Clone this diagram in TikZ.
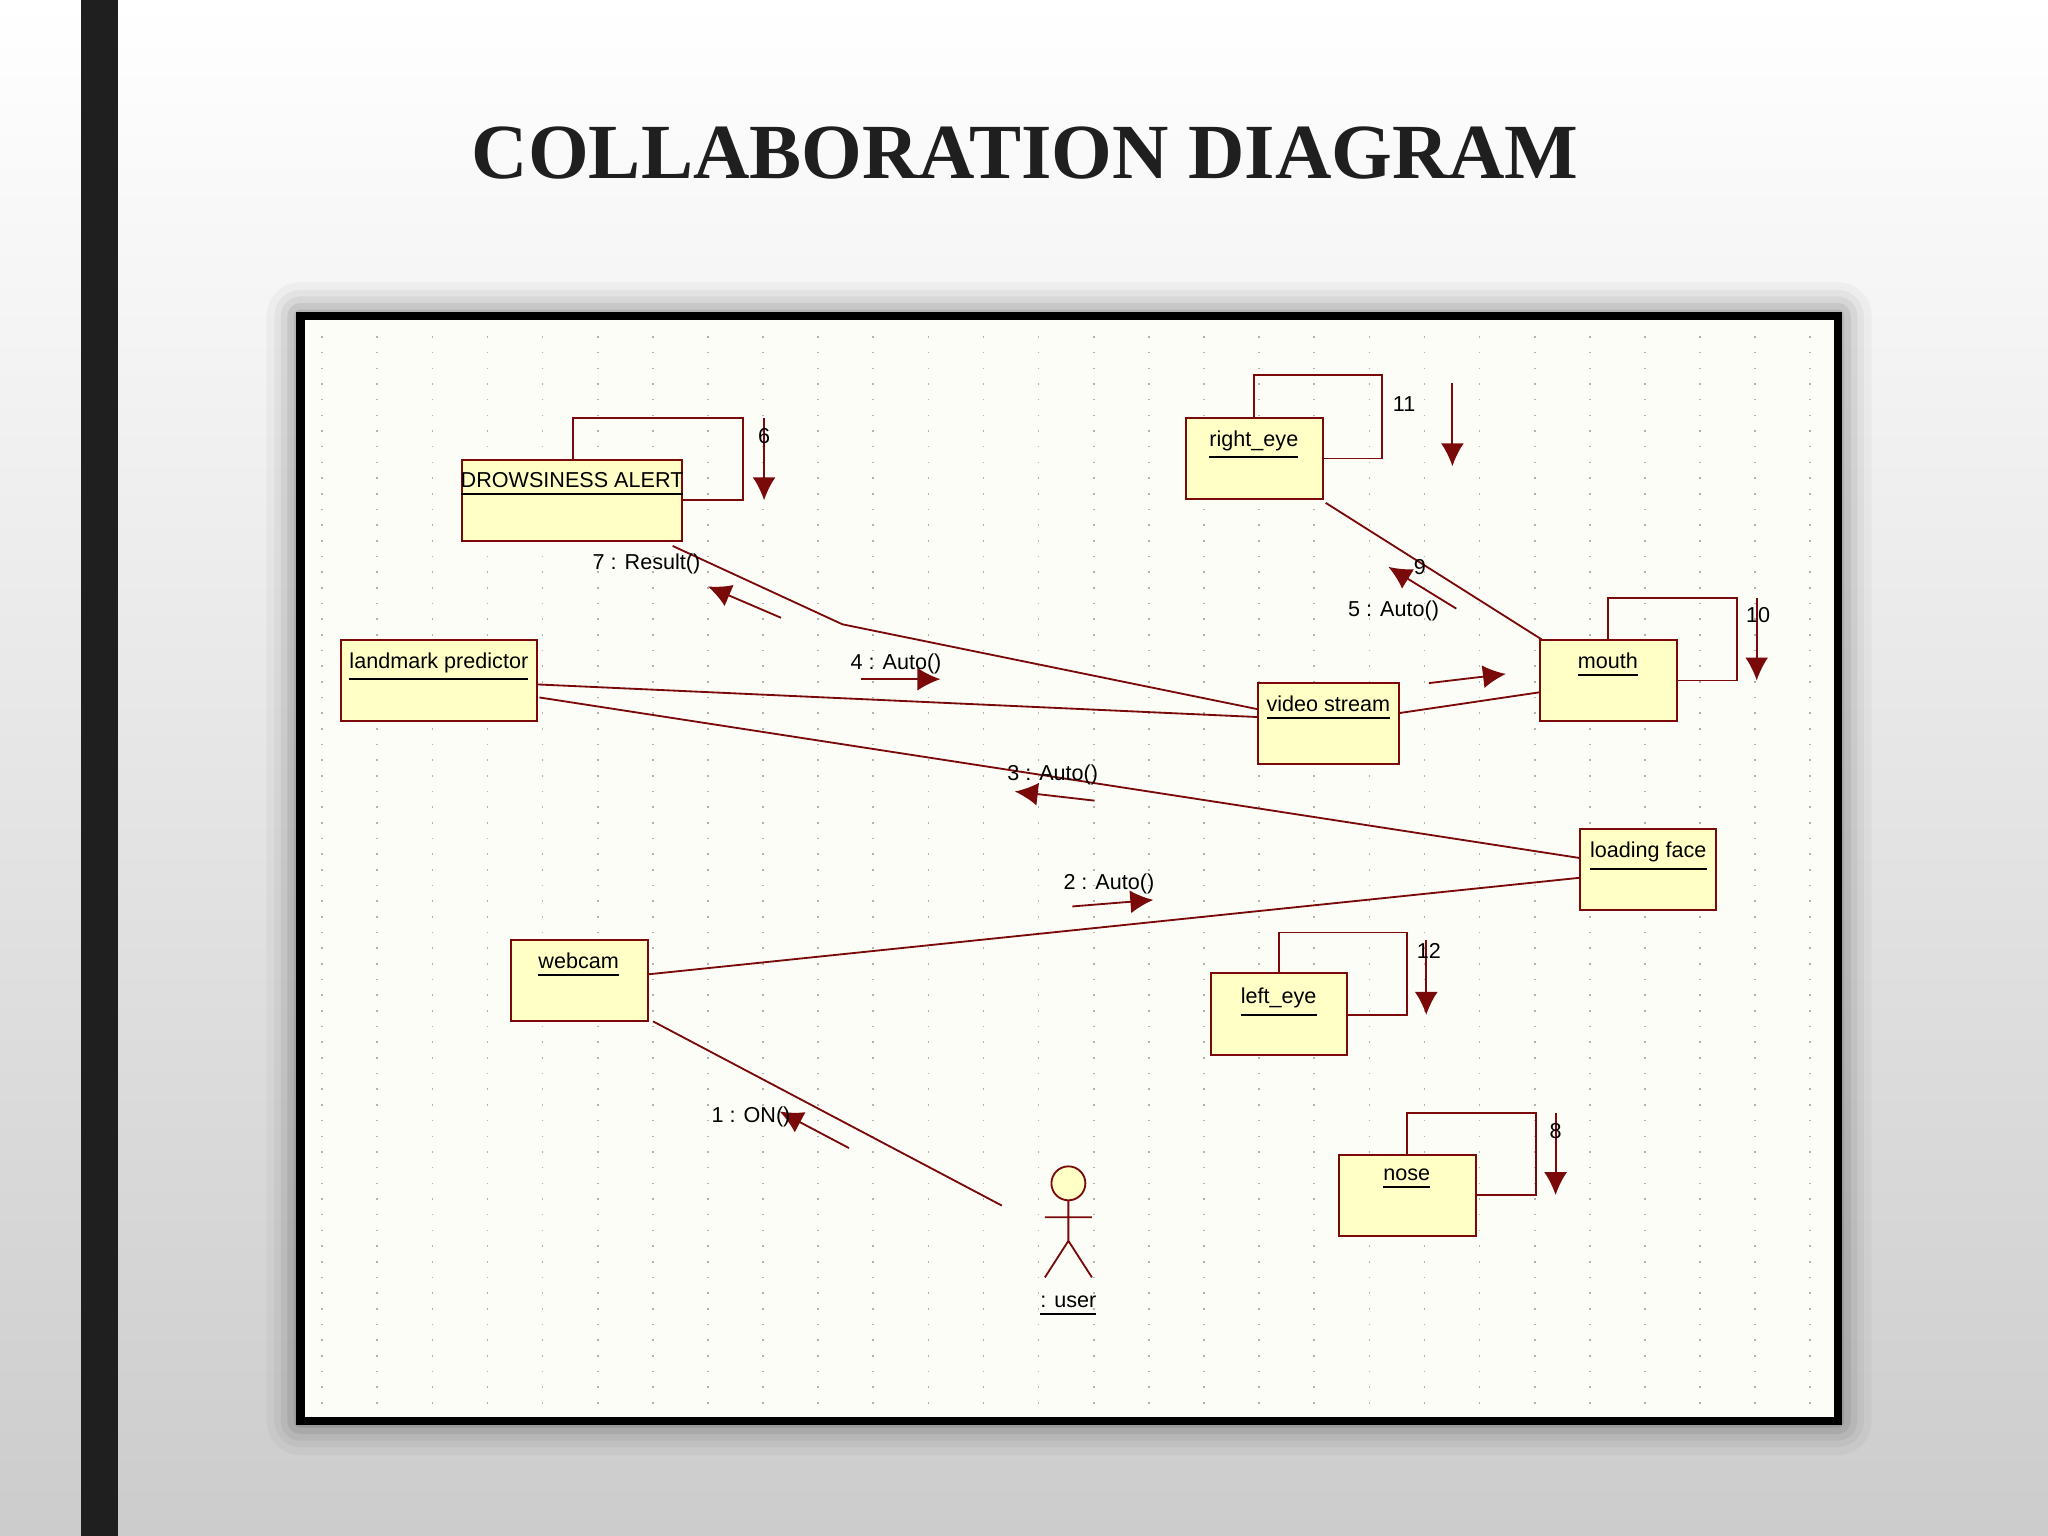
\documentclass[tikz,border=0pt]{standalone}
\usepackage{fontspec}
\setmainfont{Liberation Serif}
\newfontfamily\umlfont{Liberation Sans}
\usetikzlibrary{arrows.meta}
\definecolor{dred}{HTML}{7A0A0A}
\definecolor{boxy}{HTML}{FFFFC6}
\definecolor{inner}{HTML}{FDFDF8}
\tikzset{
  obj/.style={draw=dred, fill=boxy, line width=0.45pt},
  lnk/.style={draw=dred, line width=0.4pt},
  msg/.style={draw=dred, line width=0.4pt, -{Latex[length=5pt,width=5pt]}},
  lbl/.style={font=\umlfont\fontsize{4.7}{5.5}\selectfont, inner sep=0pt, text=black},
  ulbl/.style={lbl, anchor=north},
}
\newcommand{\ul}[1]{\underline{#1}}
\begin{document}
\begin{tikzpicture}[x=0.01cm,y=-0.01cm]
\useasboundingbox (0,0) rectangle (1568,1176);
\shade[top color=white, bottom color=black!20] (0,0) rectangle (1568,1176);
\fill[black!88] (62,0) rectangle (90,1176);
\node[font=\bfseries\fontsize{17}{20}\selectfont, text=black!88] (title) at (785,117) {COLLABORATION DIAGRAM};
% shadow
\foreach \d/\o in {26/0.03,20/0.04,15/0.05,10/0.07,5/0.09}{
  \fill[black, opacity=\o, rounded corners=\d*0.01cm] (230-\d,242-\d) rectangle (1407+\d,1088+\d);}
\fill[inner] (230,242) rectangle (1407,1088);
\foreach \yy in {258,270,...,1080}{
  \draw[black!30, line width=0.35pt, dash pattern=on 0.35pt off 11.65pt] (246,\yy) -- (1400,\yy);}
\draw[black, line width=1.8pt] (230,242) rectangle (1407,1088);
% links
\draw[lnk] (515,418) -- (645,478) -- (963,543);
\draw[lnk] (1015,385) -- (1181,490);
\draw[lnk] (411,524) -- (963,549);
\draw[lnk] (1071,546) -- (1179,530);
\draw[lnk] (413,534) -- (1210,657);
\draw[lnk] (496,746) -- (1210,672);
\draw[lnk] (500,782) -- (767,923);
% self loops
\draw[lnk] (439,352) |- (569,320) |- (522,383);
\draw[lnk] (960,320) |- (1058,287) |- (1013,351);
\draw[lnk] (1231,490) |- (1330,458) |- (1284,521);
\draw[lnk] (979,745) |- (1077,714) |- (1031,777);
\draw[lnk] (1077,884) |- (1176,852) |- (1130,915);
% objects
\draw[obj] (354,352) rectangle (522,414); \node[ulbl] (da) at (438,361) {\ul{DROWSINESS ALERT}};
\draw[obj] (908,320) rectangle (1013,382); \node[ulbl] (re) at (960,329) {\ul{right\_eye}};
\draw[obj] (261,490) rectangle (411,552); \node[ulbl] (lp) at (336,499) {\ul{landmark predictor}};
\draw[obj] (963,523) rectangle (1071,585); \node[ulbl] (vs) at (1017,532) {\ul{video stream}};
\draw[obj] (1179,490) rectangle (1284,552); \node[ulbl] (mo) at (1231,499) {\ul{mouth}};
\draw[obj] (1210,635) rectangle (1314,697); \node[ulbl] (lf) at (1262,644) {\ul{loading face}};
\draw[obj] (391,720) rectangle (496,782); \node[ulbl] (wc) at (443,729) {\ul{webcam}};
\draw[obj] (927,745) rectangle (1031,808); \node[ulbl] (le) at (979,756) {\ul{left\_eye}};
\draw[obj] (1025,884) rectangle (1130,946); \node[ulbl] (no) at (1077,894) {\ul{nose}};
% actor
\draw[lnk, fill=boxy] (818,906) circle (13);
\draw[lnk] (818,919) -- (818,950) (800,932) -- (836,932) (818,950) -- (800,978) (818,950) -- (836,978);
\node[lbl] (us) at (818,1000) {\ul{: user}};
% messages
\draw[msg] (585,320) -- (585,383); \node[lbl] at (585,334) {6};
\draw[msg] (1112,293) -- (1112,357); \node[lbl] at (1075,309) {11};
\draw[msg] (1345,458) -- (1345,521); \node[lbl] at (1346,471) {10};
\draw[msg] (1092,720) -- (1092,777); \node[lbl] at (1094,728) {12};
\draw[msg] (1191,852) -- (1191,915); \node[lbl] at (1191,866) {8};
\draw[msg] (598,473) -- (542,449); \node[lbl] at (495,432) {7 : Result()};
\draw[msg] (1115,466) -- (1063,434); \node[lbl] at (1087,434) {9}; \node[lbl] at (1067,468) {5 : Auto()};
\draw[msg] (659,520) -- (720,520); \node[lbl] at (686,508) {4 : Auto()};
\draw[msg] (1094,523) -- (1153,516);
\draw[msg] (838,613) -- (777,606); \node[lbl] at (806,593) {3 : Auto()};
\draw[msg] (821,694) -- (883,689); \node[lbl] at (849,677) {2 : Auto()};
\draw[msg] (650,879) -- (597,851); \node[lbl] at (575,855) {1 : ON()};
\end{tikzpicture}
\end{document}
